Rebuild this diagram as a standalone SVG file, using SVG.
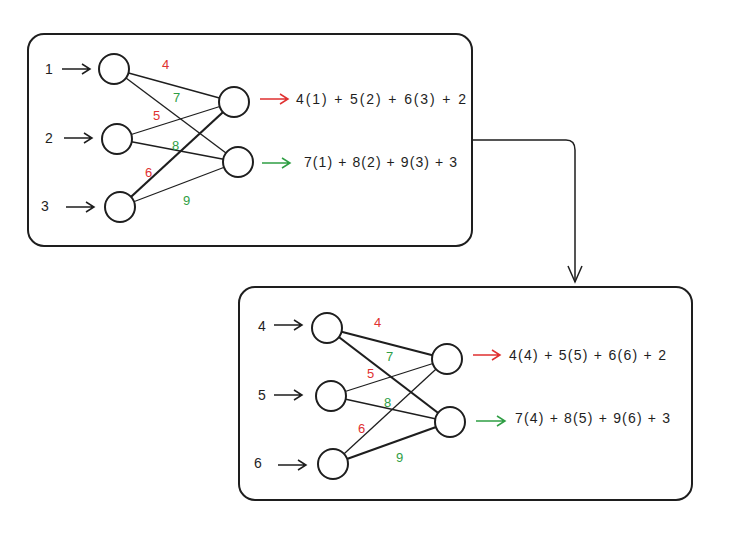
<svg xmlns="http://www.w3.org/2000/svg" width="741" height="541" viewBox="0 0 741 541">
<style>
.box{fill:none;stroke:#1e1e1e;stroke-width:2}
.n{fill:#fff;stroke:#1e1e1e;stroke-width:2}
.e{stroke:#1e1e1e;stroke-width:1.3}
.t{font-family:"Liberation Sans",sans-serif;font-size:14px;fill:#1e1e1e}
.r{font-family:"Liberation Sans",sans-serif;font-size:13px;fill:#e03131}
.g{font-family:"Liberation Sans",sans-serif;font-size:13px;fill:#2f9e44}
.a{fill:none;stroke:#1e1e1e;stroke-width:1.5}
.ar{fill:none;stroke:#e03131;stroke-width:1.5}
.ag{fill:none;stroke:#2f9e44;stroke-width:1.5}
</style>
<rect width="741" height="541" fill="#fff"/>
<g id="box1"><rect class="box" x="28" y="34" width="444" height="212" rx="16"/></g>
<g id="box2"><rect class="box" x="239" y="287" width="453" height="213" rx="16"/></g>
<g id="connectors">
<path class="a" d="M472,140 H566 Q575,140 575,150 V282"/>
<path class="a" d="M568,266 L575,282 L582,266"/>
<g class="e">
<line x1="114" y1="69" x2="234" y2="102"/><line x1="114" y1="69" x2="238" y2="162"/>
<line x1="117" y1="139" x2="234" y2="102"/><line x1="117" y1="139" x2="238" y2="162"/>
<line x1="120" y1="207" x2="234" y2="102" stroke-width="2.2"/><line x1="120" y1="207" x2="238" y2="162"/>
<line x1="327" y1="328" x2="447" y2="359" stroke-width="2.2"/><line x1="327" y1="328" x2="450" y2="422" stroke-width="2.2"/>
<line x1="331" y1="396" x2="447" y2="359"/><line x1="331" y1="396" x2="450" y2="422"/>
<line x1="333" y1="464" x2="447" y2="359"/><line x1="333" y1="464" x2="450" y2="422" stroke-width="2.2"/>
</g>
<path class="a" d="M62,69 H90 M82,64 L90,69 L82,74 M64,138 H92 M84,133 L92,138 L84,143 M66,207 H94 M86,202 L94,207 L86,212"/>
<path class="a" d="M274,325 H302 M294,320 L302,325 L294,330 M274,395 H302 M294,390 L302,395 L294,400 M278,465 H306 M298,460 L306,465 L298,470"/>
<path class="ar" d="M260,99 H288 M280,94 L288,99 L280,104 M473,355 H500 M492,350 L500,355 L492,360"/>
<path class="ag" d="M262,163 H290 M282,158 L290,163 L282,168 M476,421 H505 M497,416 L505,421 L497,426"/>
</g>
<g id="n1"><circle class="n" cx="114" cy="69" r="15"/></g>
<g id="n2"><circle class="n" cx="117" cy="139" r="15"/></g>
<g id="n3"><circle class="n" cx="120" cy="207" r="15"/></g>
<g id="n4"><circle class="n" cx="234" cy="102" r="15"/></g>
<g id="n5"><circle class="n" cx="238" cy="162" r="15"/></g>
<g id="m1"><circle class="n" cx="327" cy="328" r="15"/></g>
<g id="m2"><circle class="n" cx="331" cy="396" r="15"/></g>
<g id="m3"><circle class="n" cx="333" cy="464" r="15"/></g>
<g id="m4"><circle class="n" cx="447" cy="359" r="15"/></g>
<g id="m5"><circle class="n" cx="450" cy="422" r="15"/></g>
<g id="labels">
<text class="t" x="45" y="74">1</text><text class="t" x="45" y="143">2</text><text class="t" x="41" y="211">3</text>
<text class="t" x="258" y="331">4</text><text class="t" x="258" y="400">5</text><text class="t" x="254" y="468">6</text>
<text class="r" x="162" y="69">4</text><text class="g" x="173" y="102">7</text><text class="r" x="153" y="120">5</text>
<text class="g" x="172" y="150">8</text><text class="r" x="145" y="177">6</text><text class="g" x="183" y="205">9</text>
<text class="r" x="374" y="327">4</text><text class="g" x="386" y="361">7</text><text class="r" x="367" y="378">5</text>
<text class="g" x="384" y="407">8</text><text class="r" x="358" y="433">6</text><text class="g" x="396" y="462">9</text>
<text class="t" x="296" y="104" textLength="170">4(1) + 5(2) + 6(3) + 2</text>
<text class="t" x="304" y="167" textLength="153">7(1) + 8(2) + 9(3) + 3</text>
<text class="t" x="509" y="360" textLength="157">4(4) + 5(5) + 6(6) + 2</text>
<text class="t" x="515" y="423" textLength="155">7(4) + 8(5) + 9(6) + 3</text>
</g>
</svg>
